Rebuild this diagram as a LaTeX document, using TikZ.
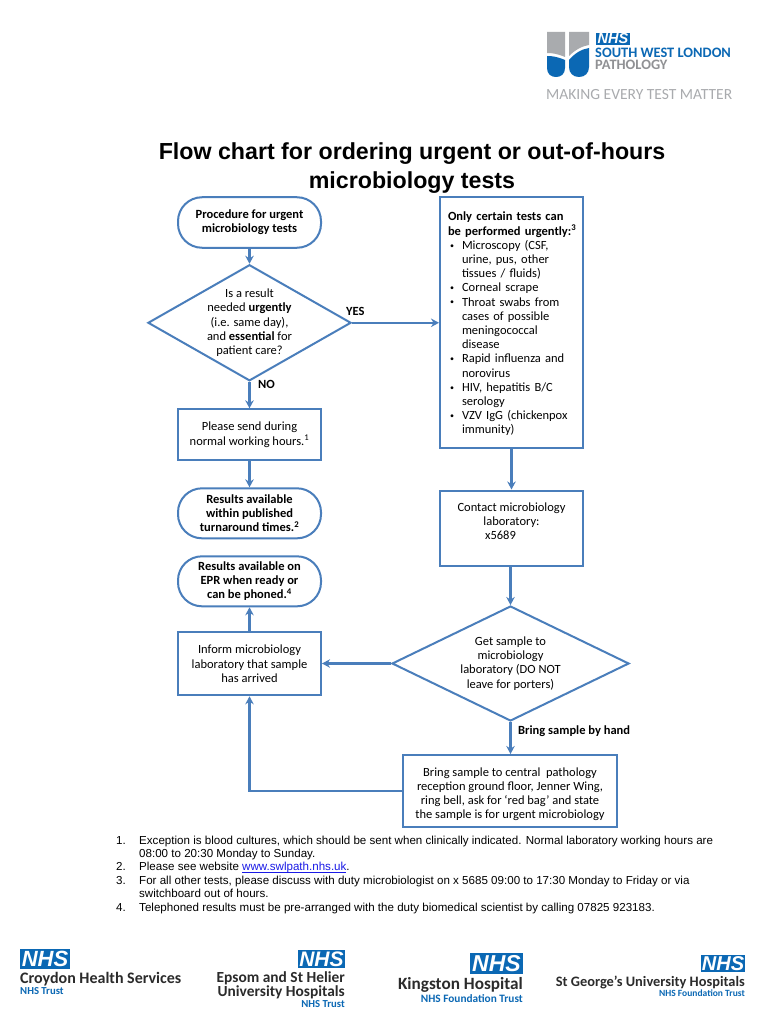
\documentclass[tikz,border=0pt]{standalone}
\usepackage{fontspec}
\setmainfont{Liberation Sans}
\newfontfamily\boxfont{Carlito}
\usetikzlibrary{arrows.meta,positioning,shapes.geometric,calc}
\definecolor{flowblue}{HTML}{4A7EBB}
\definecolor{nhsblue}{HTML}{0B68B4}
\definecolor{logogrey}{HTML}{A9ABAE}
\definecolor{logotext}{HTML}{2B2B2B}
\definecolor{linkblue}{HTML}{1A1AE6}
\newcommand{\urgentbullet}{\makebox[14pt][l]{\hspace{2pt}\raisebox{1.2pt}{\fontsize{8}{8}\selectfont\textbullet}}}
\newcommand{\linktext}[1]{\sbox0{#1}\rlap{\rule[-1.5pt]{\wd0}{0.7pt}}\usebox0}

\begin{document}
\begin{tikzpicture}[
  x=1pt, y=-1pt,
  >=Stealth,
  flowbox/.style={
    draw=flowblue,
    fill=white,
    line width=2pt,
    inner sep=3pt,
    font=\boxfont\fontsize{12.5}{14.2}\selectfont,
    align=center,
    text=black
  },
  squarebox/.style={
    flowbox,
    minimum width=143pt
  },
  roundbox/.style={
    flowbox,
    rounded corners=24pt,
    minimum width=143pt,
    minimum height=50pt,
    font=\boxfont\bfseries\fontsize{12.5}{14.2}\selectfont
  },
  decisionbox/.style={
    flowbox,
    diamond,
    aspect=1.75,
    inner sep=0pt
  },
  flowarrow/.style={
    -{Stealth[length=8pt,width=8.5pt]},
    line width=2.4pt,
    draw=flowblue
  },
  arrowlabel/.style={
    font=\boxfont\bfseries\fontsize{12.5}{14.2}\selectfont,
    inner sep=0pt
  },
  nhsmark/.style={
    fill=nhsblue,
    text=white,
    inner sep=0pt
  },
  trustname/.style={
    text=logotext,
    inner sep=0pt
  },
  trustsub/.style={
    text=nhsblue,
    inner sep=0pt
  }
]
  \useasboundingbox (0,0) rectangle (768,1024);
  \fill[white] (0,0) rectangle (768,1024);

  % Pathology logo, top right
  \fill[logogrey] (547,32) -- (565,32) -- (565,57) .. controls (558,54) and (553,53) .. (547,53) -- cycle;
  \fill[logogrey] (569,32) -- (589,32) -- (589,45) .. controls (582,46) and (575,50) .. (569,56) -- cycle;
  \fill[nhsblue] (547,56) .. controls (553,56) and (558,57) .. (565,60) -- (565,68) .. controls (565,74) and (561,77) .. (556,77) .. controls (551,77) and (547,74) .. (547,68) -- cycle;
  \fill[nhsblue] (569,60) .. controls (575,53) and (582,49) .. (589,48) -- (589,67) .. controls (589,73) and (585,77) .. (579,77) .. controls (573,77) and (569,73) .. (569,67) -- cycle;
  \node[nhsmark, font=\bfseries\itshape\fontsize{14.5}{15}\selectfont, minimum width=34pt, minimum height=12.5pt] (pathnhs) at (613,39) {NHS};
  \node[anchor=west, inner sep=0pt, text=nhsblue, font=\boxfont\bfseries\fontsize{14.4}{14.4}\selectfont] (pathname) at (595,52.5) {SOUTH WEST LONDON};
  \node[anchor=west, inner sep=0pt, text=logogrey!85!black, font=\boxfont\bfseries\fontsize{14.4}{14.4}\selectfont] (pathsub) at (595,65) {PATHOLOGY};
  \node[anchor=west, inner sep=0pt, text=logogrey, font=\boxfont\fontsize{15.5}{16}\selectfont] (pathmotto) at (546,94.5) {MAKING EVERY TEST MATTER};

  % Title
  \node[align=center, inner sep=0pt, font=\bfseries\fontsize{23.2}{29}\selectfont] (title) at (412,168.5) {Flow chart for ordering urgent or out-of-hours\\microbiology tests};

  % --- LEFT COLUMN ---
  \node[roundbox, minimum height=50.5pt] (procedure) at (249.5,222.5) {Procedure for urgent\\microbiology tests};

  \node[decisionbox, minimum width=203pt, minimum height=115pt, below=15pt of procedure] (urgent) {
    Is a result\\needed \textbf{urgently}\\(i.e. same day),\\and \textbf{essential} for\\patient care?
  };

  \node[squarebox, minimum height=51pt, below=26.5pt of urgent] (normal) {
    Please send during\\normal working hours.\textsuperscript{1}
  };

  \node[roundbox, below=26pt of normal] (turnaround) {
    Results available\\within published\\turnaround times.\textsuperscript{2}
  };

  \node[roundbox, below=16pt of turnaround] (epr) {
    Results available on\\EPR when ready or\\can be phoned.\textsuperscript{4}
  };

  \node[squarebox, minimum height=63pt, below=24pt of epr] (inform) {
    Inform microbiology\\laboratory that sample\\has arrived
  };

  % --- RIGHT COLUMN ---
  \node[flowbox, text width=127pt, inner sep=8pt, minimum height=250pt, anchor=north west, align=left] (certain) at (439,196.5) {%
    \begin{tabular}{@{}l@{}}
      \rule{0pt}{14pt}\textbf{Only certain tests can}\\
      \textbf{be performed urgently:\textsuperscript{3}}\\
      \urgentbullet Microscopy (CSF,\\
      \hspace*{14pt}urine, pus, other\\
      \hspace*{14pt}tissues / fluids)\\
      \urgentbullet Corneal scrape\\
      \urgentbullet Throat swabs from\\
      \hspace*{14pt}cases of possible\\
      \hspace*{14pt}meningococcal\\
      \hspace*{14pt}disease\\
      \urgentbullet Rapid influenza and\\
      \hspace*{14pt}norovirus\\
      \urgentbullet HIV, hepatitis B/C\\
      \hspace*{14pt}serology\\
      \urgentbullet VZV IgG (chickenpox\\
      \hspace*{14pt}immunity)
    \end{tabular}
  };

  \node[squarebox, minimum height=75pt, below=41pt of certain] (contact) {
    Contact microbiology\\laboratory:\\x5689\hspace{22pt}\mbox{}\\\mbox{}
  };

  \node[decisionbox, minimum width=237pt, minimum height=115pt, anchor=north] (gethand) at (510.5,605) {
    Get sample to\\microbiology\\laboratory (DO NOT\\leave for porters)
  };

  \node[flowbox, minimum width=214pt, minimum height=72pt] (central) at (510,791) {
    \rule{0pt}{15pt}Bring sample to central\ \ pathology\\reception ground floor, Jenner Wing,\\ring bell, ask for ‘red bag’ and state\\the sample is for urgent microbiology
  };

  % Connecting arrows
  \draw[flowarrow] (procedure.south) -- (urgent.north);
  \draw[flowarrow] (urgent.south) -- (normal.north);
  \draw[flowarrow] (normal.south) -- (turnaround.north);
  \draw[flowarrow] (urgent.east) -- (certain.west |- urgent.east);
  \draw[flowarrow] (certain.south -| contact.north) -- (contact.north);
  \draw[flowarrow] (contact.south) -- (contact.south -| gethand.north) -- (gethand.north);
  \draw[flowarrow] (gethand.south) -- (gethand.south |- central.north);
  \draw[flowarrow] (gethand.west) -- (inform.east |- gethand.west);
  \draw[flowarrow] (inform.north) -- (epr.south);
  \draw[flowarrow] (central.west) -| (inform.south);

  % Arrow labels
  \node[arrowlabel, anchor=west] (yeslabel) at (346,311.5) {YES};
  \node[arrowlabel, anchor=west] (nolabel) at (258,384) {NO};
  \node[arrowlabel, anchor=west] (handlabel) at (518,731) {Bring sample by hand};

  % Footnotes
  \node[anchor=north west, inner sep=0pt, align=left, font=\fontsize{11.58}{13.4}\selectfont] (footnotes) at (116,834.5) {%
    \renewcommand{\arraystretch}{1}%
    \begin{tabular}{@{}p{23pt}@{}l@{}}
      1. & Exception is blood cultures, which should be sent when clinically indicated. Normal laboratory working hours are\\
         & 08:00 to 20:30 Monday to Sunday.\\
      2. & Please see website \textcolor{linkblue}{\linktext{www.swlpath.nhs.uk}}.\\
      3. & For all other tests, please discuss with duty microbiologist on x 5685 09:00 to 17:30 Monday to Friday or via\\
         & switchboard out of hours.\\
      4. & Telephoned results must be pre-arranged with the duty biomedical scientist by calling 07825 923183.
    \end{tabular}
  };

  % Trust logos along the bottom
  \node[nhsmark, font=\bfseries\itshape\fontsize{22}{22}\selectfont, minimum width=50pt, minimum height=19.5pt] (croydonnhs) at (45,959) {NHS};
  \node[trustname, anchor=west, font=\boxfont\bfseries\fontsize{16}{16}\selectfont] (croydonname) at (20,979) {Croydon Health Services};
  \node[trustsub, anchor=west, font=\boxfont\bfseries\fontsize{10.7}{12}\selectfont] (croydonsub) at (20,991.5) {NHS Trust};

  \node[nhsmark, font=\bfseries\itshape\fontsize{21}{21}\selectfont, minimum width=47pt, minimum height=18.5pt] (epsomnhs) at (321.5,959) {NHS};
  \node[trustname, anchor=east, font=\boxfont\bfseries\fontsize{15.4}{16}\selectfont] (epsomname) at (345,978.5) {Epsom and St Helier};
  \node[trustname, anchor=east, font=\boxfont\bfseries\fontsize{15.4}{16}\selectfont] (epsomuni) at (345,992) {University Hospitals};
  \node[trustsub, anchor=east, font=\boxfont\bfseries\fontsize{10.7}{12}\selectfont] (epsomsub) at (345,1004) {NHS Trust};

  \node[nhsmark, font=\bfseries\itshape\fontsize{23}{23}\selectfont, minimum width=53pt, minimum height=20.5pt] (kingstonnhs) at (496.5,963.5) {NHS};
  \node[trustname, anchor=east, font=\boxfont\bfseries\fontsize{17.2}{18}\selectfont] (kingstonname) at (523,985) {Kingston Hospital};
  \node[trustsub, anchor=east, font=\boxfont\bfseries\fontsize{11.3}{12}\selectfont] (kingstonsub) at (523,998.5) {NHS Foundation Trust};

  \node[nhsmark, font=\bfseries\itshape\fontsize{20}{20}\selectfont, minimum width=44pt, minimum height=17.5pt] (georgenhs) at (723,963.5) {NHS};
  \node[trustname, anchor=east, font=\boxfont\bfseries\fontsize{14.4}{15}\selectfont] (georgename) at (745,982) {St George’s University Hospitals};
  \node[trustsub, anchor=east, font=\boxfont\bfseries\fontsize{9.5}{11}\selectfont] (georgesub) at (745,993) {NHS Foundation Trust};

\end{tikzpicture}
\end{document}
